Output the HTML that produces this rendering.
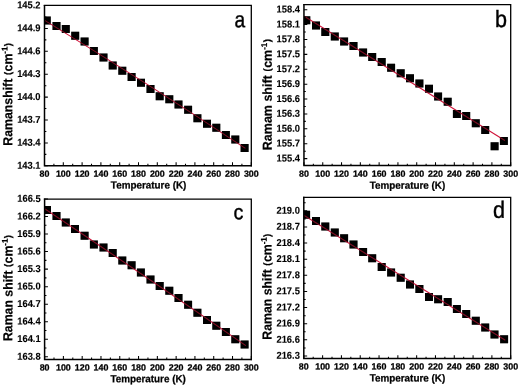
<!DOCTYPE html>
<html><head><meta charset="utf-8"><title>Raman shift vs temperature</title>
<style>
html,body{margin:0;padding:0;background:#fff;}
body{width:520px;height:386px;overflow:hidden;}
svg{display:block;}
text{font-family:"Liberation Sans",Arial,sans-serif;fill:#000;}
.yl{font-weight:bold;font-size:10.0px;text-anchor:end;stroke:#000;stroke-width:0.12px;}
.xl{font-weight:bold;font-size:9.0px;text-anchor:middle;stroke:#000;stroke-width:0.25px;}
.xt{font-weight:bold;font-size:10.3px;text-anchor:middle;stroke:#000;stroke-width:0.25px;}
.yt{font-weight:bold;font-size:13.0px;text-anchor:middle;stroke:#000;stroke-width:0.2px;}
.lt{font-size:22.5px;font-weight:normal;stroke:#000;stroke-width:0.4px;}
.ax{stroke:#000;fill:none;}
</style></head><body>
<svg width="520" height="386" viewBox="0 0 520 386">
<defs><filter id="soft" x="0" y="0" width="520" height="386" filterUnits="userSpaceOnUse"><feGaussianBlur stdDeviation="0.3"/></filter></defs>
<rect width="520" height="386" fill="#fff"/>
<g filter="url(#soft)">
<rect width="520" height="386" fill="#fff"/>

<g id="panel-a">
<clipPath id="cp-a"><rect x="44.5" y="5.4" width="206.8" height="160.3"/></clipPath>
<path d="M42.8 16.4h8v8h-8zM52.5 22h8v8h-8zM61.8 24.9h8v8h-8zM71.2 31.8h8v8h-8zM80.6 37.5h8v8h-8zM89.9 46.9h8v8h-8zM99.5 53.6h8v8h-8zM108.7 61.5h8v8h-8zM118.3 66.7h8v8h-8zM127.6 72.9h8v8h-8zM137 78.8h8v8h-8zM146.5 85.1h8v8h-8zM155.7 92.3h8v8h-8zM165.3 95.2h8v8h-8zM174.5 100.6h8v8h-8zM184.1 105.8h8v8h-8zM193.4 114.2h8v8h-8zM203 119.8h8v8h-8zM212.3 123.8h8v8h-8zM221.9 131.1h8v8h-8zM231.3 135.6h8v8h-8zM240.6 144h8v8h-8z" fill="#050505" clip-path="url(#cp-a)"/>
<path d="M44.7 20.4Q145.05 81.6 245.4 148.4" stroke="#d0143a" stroke-width="1.1" fill="none"/>
<path d="M42.8 16.4h8v8h-8zM52.5 22h8v8h-8zM61.8 24.9h8v8h-8zM71.2 31.8h8v8h-8zM80.6 37.5h8v8h-8zM89.9 46.9h8v8h-8zM99.5 53.6h8v8h-8zM108.7 61.5h8v8h-8zM118.3 66.7h8v8h-8zM127.6 72.9h8v8h-8zM137 78.8h8v8h-8zM146.5 85.1h8v8h-8zM155.7 92.3h8v8h-8zM165.3 95.2h8v8h-8zM174.5 100.6h8v8h-8zM184.1 105.8h8v8h-8zM193.4 114.2h8v8h-8zM203 119.8h8v8h-8zM212.3 123.8h8v8h-8zM221.9 131.1h8v8h-8zM231.3 135.6h8v8h-8zM240.6 144h8v8h-8z" fill="#000" fill-opacity="0.4" clip-path="url(#cp-a)"/>
<text class="yl" transform="translate(40.55 8.38) rotate(0.04) scale(0.935 1)">145.2</text>
<text class="yl" transform="translate(40.55 31.28) rotate(0.04) scale(0.935 1)">144.9</text>
<text class="yl" transform="translate(40.55 54.18) rotate(0.04) scale(0.935 1)">144.6</text>
<text class="yl" transform="translate(40.55 77.08) rotate(0.04) scale(0.935 1)">144.3</text>
<text class="yl" transform="translate(40.55 99.98) rotate(0.04) scale(0.935 1)">144.0</text>
<text class="yl" transform="translate(40.55 122.88) rotate(0.04) scale(0.935 1)">143.7</text>
<text class="yl" transform="translate(40.55 145.78) rotate(0.04) scale(0.935 1)">143.4</text>
<text class="yl" transform="translate(40.55 168.68) rotate(0.04) scale(0.935 1)">143.1</text>
<text class="xl" transform="translate(44.5 176.7) rotate(0.04) scale(0.99 1)">80</text>
<text class="xl" transform="translate(63.3 176.7) rotate(0.04) scale(0.99 1)">100</text>
<text class="xl" transform="translate(82.1 176.7) rotate(0.04) scale(0.99 1)">120</text>
<text class="xl" transform="translate(100.9 176.7) rotate(0.04) scale(0.99 1)">140</text>
<text class="xl" transform="translate(119.7 176.7) rotate(0.04) scale(0.99 1)">160</text>
<text class="xl" transform="translate(138.5 176.7) rotate(0.04) scale(0.99 1)">180</text>
<text class="xl" transform="translate(157.3 176.7) rotate(0.04) scale(0.99 1)">200</text>
<text class="xl" transform="translate(176.1 176.7) rotate(0.04) scale(0.99 1)">220</text>
<text class="xl" transform="translate(194.9 176.7) rotate(0.04) scale(0.99 1)">240</text>
<text class="xl" transform="translate(213.7 176.7) rotate(0.04) scale(0.99 1)">260</text>
<text class="xl" transform="translate(232.5 176.7) rotate(0.04) scale(0.99 1)">280</text>
<text class="xl" transform="translate(251.3 176.7) rotate(0.04) scale(0.99 1)">300</text>
<text class="xt" transform="translate(148.6 188.6) rotate(0.04) scale(0.96 1)">Temperature (K)</text>
<text class="yt" transform="translate(12.3 94.35) rotate(-89.96) scale(0.946 1)">Ramanshift <tspan dx="0.4" dy="-1.2" font-size="10">(</tspan><tspan dx="0.4" dy="1.2">cm</tspan><tspan dy="-4.8" font-size="8.4">-1</tspan><tspan dx="0.4" dy="3.6" font-size="10">)</tspan></text>
<text class="lt" transform="translate(234.6 27.3) rotate(0.04) scale(0.85 1.0)">a</text>
</g>
<g id="panel-b">
<clipPath id="cp-b"><rect x="303.95" y="4.65" width="206.75" height="160.95"/></clipPath>
<path d="M302.3 16.2h8v8h-8zM312 21.5h8v8h-8zM321.3 27.9h8v8h-8zM330.8 32.4h8v8h-8zM340.1 37.5h8v8h-8zM349.5 41.9h8v8h-8zM359.1 48.6h8v8h-8zM368.2 53.1h8v8h-8zM377.7 58.1h8v8h-8zM387.1 63.7h8v8h-8zM396.7 69.3h8v8h-8zM406 74.3h8v8h-8zM415.4 79.4h8v8h-8zM425 84.8h8v8h-8zM434.1 92.4h8v8h-8zM443.7 97.8h8v8h-8zM452.9 110.1h8v8h-8zM462.2 112.1h8v8h-8zM471.8 119.2h8v8h-8zM481.2 126.1h8v8h-8zM490.6 142.2h8v8h-8zM499.9 136.9h8v8h-8z" fill="#050505" clip-path="url(#cp-b)"/>
<path d="M304.2 16.3Q404.45 78.2 504.9 140.5" stroke="#d0143a" stroke-width="1.1" fill="none"/>
<path d="M302.3 16.2h8v8h-8zM312 21.5h8v8h-8zM321.3 27.9h8v8h-8zM330.8 32.4h8v8h-8zM340.1 37.5h8v8h-8zM349.5 41.9h8v8h-8zM359.1 48.6h8v8h-8zM368.2 53.1h8v8h-8zM377.7 58.1h8v8h-8zM387.1 63.7h8v8h-8zM396.7 69.3h8v8h-8zM406 74.3h8v8h-8zM415.4 79.4h8v8h-8zM425 84.8h8v8h-8zM434.1 92.4h8v8h-8zM443.7 97.8h8v8h-8zM452.9 110.1h8v8h-8zM462.2 112.1h8v8h-8zM471.8 119.2h8v8h-8zM481.2 126.1h8v8h-8zM490.6 142.2h8v8h-8zM499.9 136.9h8v8h-8z" fill="#000" fill-opacity="0.4" clip-path="url(#cp-b)"/>
<text class="yl" transform="translate(300 12.58) rotate(0.04) scale(0.935 1)">158.4</text>
<text class="yl" transform="translate(300 27.47) rotate(0.04) scale(0.935 1)">158.1</text>
<text class="yl" transform="translate(300 42.36) rotate(0.04) scale(0.935 1)">157.8</text>
<text class="yl" transform="translate(300 57.25) rotate(0.04) scale(0.935 1)">157.5</text>
<text class="yl" transform="translate(300 72.14) rotate(0.04) scale(0.935 1)">157.2</text>
<text class="yl" transform="translate(300 87.03) rotate(0.04) scale(0.935 1)">156.9</text>
<text class="yl" transform="translate(300 101.92) rotate(0.04) scale(0.935 1)">156.6</text>
<text class="yl" transform="translate(300 116.81) rotate(0.04) scale(0.935 1)">156.3</text>
<text class="yl" transform="translate(300 131.7) rotate(0.04) scale(0.935 1)">156.0</text>
<text class="yl" transform="translate(300 146.59) rotate(0.04) scale(0.935 1)">155.7</text>
<text class="yl" transform="translate(300 161.48) rotate(0.04) scale(0.935 1)">155.4</text>
<text class="xl" transform="translate(303.95 176.8) rotate(0.04) scale(0.99 1)">80</text>
<text class="xl" transform="translate(322.75 176.8) rotate(0.04) scale(0.99 1)">100</text>
<text class="xl" transform="translate(341.54 176.8) rotate(0.04) scale(0.99 1)">120</text>
<text class="xl" transform="translate(360.34 176.8) rotate(0.04) scale(0.99 1)">140</text>
<text class="xl" transform="translate(379.13 176.8) rotate(0.04) scale(0.99 1)">160</text>
<text class="xl" transform="translate(397.93 176.8) rotate(0.04) scale(0.99 1)">180</text>
<text class="xl" transform="translate(416.72 176.8) rotate(0.04) scale(0.99 1)">200</text>
<text class="xl" transform="translate(435.52 176.8) rotate(0.04) scale(0.99 1)">220</text>
<text class="xl" transform="translate(454.31 176.8) rotate(0.04) scale(0.99 1)">240</text>
<text class="xl" transform="translate(473.11 176.8) rotate(0.04) scale(0.99 1)">260</text>
<text class="xl" transform="translate(491.9 176.8) rotate(0.04) scale(0.99 1)">280</text>
<text class="xl" transform="translate(510.7 176.8) rotate(0.04) scale(0.99 1)">300</text>
<text class="xt" transform="translate(407.52 188.7) rotate(0.04) scale(0.96 1)">Temperature (K)</text>
<text class="yt" transform="translate(271.75 94.62) rotate(-89.96) scale(0.9601899999999999 1)">Ramam shift <tspan dx="0.4" dy="-1.2" font-size="10">(</tspan><tspan dx="0.4" dy="1.2">cm</tspan><tspan dy="-4.8" font-size="8.4">-1</tspan><tspan dx="0.4" dy="3.6" font-size="10">)</tspan></text>
<text class="lt" transform="translate(494.9 27.05) rotate(0.04) scale(0.96 1.04)">b</text>
</g>
<g id="panel-c">
<clipPath id="cp-c"><rect x="44.6" y="199.1" width="206.7" height="160.35"/></clipPath>
<path d="M43 205.9h8v8h-8zM52.5 212h8v8h-8zM61.8 218.4h8v8h-8zM71 225.1h8v8h-8zM80.6 231.7h8v8h-8zM89.9 240.6h8v8h-8zM99.5 243.6h8v8h-8zM108.7 249h8v8h-8zM118.3 256.6h8v8h-8zM127.6 261.2h8v8h-8zM136.9 268.4h8v8h-8zM146.5 275.5h8v8h-8zM155.7 281.9h8v8h-8zM165.3 286.8h8v8h-8zM174.5 294h8v8h-8zM184.1 300.8h8v8h-8zM193.4 308.7h8v8h-8zM203 316h8v8h-8zM212.3 321.7h8v8h-8zM221.9 328.1h8v8h-8zM231.3 335.3h8v8h-8zM240.6 340.4h8v8h-8z" fill="#050505" clip-path="url(#cp-c)"/>
<path d="M44.7 208.8Q151.75 280.4 245.8 345.6" stroke="#d0143a" stroke-width="1.1" fill="none"/>
<path d="M43 205.9h8v8h-8zM52.5 212h8v8h-8zM61.8 218.4h8v8h-8zM71 225.1h8v8h-8zM80.6 231.7h8v8h-8zM89.9 240.6h8v8h-8zM99.5 243.6h8v8h-8zM108.7 249h8v8h-8zM118.3 256.6h8v8h-8zM127.6 261.2h8v8h-8zM136.9 268.4h8v8h-8zM146.5 275.5h8v8h-8zM155.7 281.9h8v8h-8zM165.3 286.8h8v8h-8zM174.5 294h8v8h-8zM184.1 300.8h8v8h-8zM193.4 308.7h8v8h-8zM203 316h8v8h-8zM212.3 321.7h8v8h-8zM221.9 328.1h8v8h-8zM231.3 335.3h8v8h-8zM240.6 340.4h8v8h-8z" fill="#000" fill-opacity="0.4" clip-path="url(#cp-c)"/>
<text class="yl" transform="translate(40.65 201.88) rotate(0.04) scale(0.935 1)">166.5</text>
<text class="yl" transform="translate(40.65 219.41) rotate(0.04) scale(0.935 1)">166.2</text>
<text class="yl" transform="translate(40.65 236.94) rotate(0.04) scale(0.935 1)">165.9</text>
<text class="yl" transform="translate(40.65 254.47) rotate(0.04) scale(0.935 1)">165.6</text>
<text class="yl" transform="translate(40.65 272) rotate(0.04) scale(0.935 1)">165.3</text>
<text class="yl" transform="translate(40.65 289.53) rotate(0.04) scale(0.935 1)">165.0</text>
<text class="yl" transform="translate(40.65 307.06) rotate(0.04) scale(0.935 1)">164.7</text>
<text class="yl" transform="translate(40.65 324.59) rotate(0.04) scale(0.935 1)">164.4</text>
<text class="yl" transform="translate(40.65 342.12) rotate(0.04) scale(0.935 1)">164.1</text>
<text class="yl" transform="translate(40.65 359.65) rotate(0.04) scale(0.935 1)">163.8</text>
<text class="xl" transform="translate(44.6 370.5) rotate(0.04) scale(0.99 1)">80</text>
<text class="xl" transform="translate(63.39 370.5) rotate(0.04) scale(0.99 1)">100</text>
<text class="xl" transform="translate(82.18 370.5) rotate(0.04) scale(0.99 1)">120</text>
<text class="xl" transform="translate(100.97 370.5) rotate(0.04) scale(0.99 1)">140</text>
<text class="xl" transform="translate(119.76 370.5) rotate(0.04) scale(0.99 1)">160</text>
<text class="xl" transform="translate(138.55 370.5) rotate(0.04) scale(0.99 1)">180</text>
<text class="xl" transform="translate(157.35 370.5) rotate(0.04) scale(0.99 1)">200</text>
<text class="xl" transform="translate(176.14 370.5) rotate(0.04) scale(0.99 1)">220</text>
<text class="xl" transform="translate(194.93 370.5) rotate(0.04) scale(0.99 1)">240</text>
<text class="xl" transform="translate(213.72 370.5) rotate(0.04) scale(0.99 1)">260</text>
<text class="xl" transform="translate(232.51 370.5) rotate(0.04) scale(0.99 1)">280</text>
<text class="xl" transform="translate(251.3 370.5) rotate(0.04) scale(0.99 1)">300</text>
<text class="xt" transform="translate(148.15 382.3) rotate(0.04) scale(0.96 1)">Temperature (K)</text>
<text class="yt" transform="translate(12.4 288.07) rotate(-89.96) scale(0.946 1)">Raman shift <tspan dx="0.4" dy="-1.2" font-size="10">(</tspan><tspan dx="0.4" dy="1.2">cm</tspan><tspan dy="-4.8" font-size="8.4">-1</tspan><tspan dx="0.4" dy="3.6" font-size="10">)</tspan></text>
<text class="lt" transform="translate(233.5 219.3) rotate(0.04) scale(0.88 0.93)">c</text>
</g>
<g id="panel-d">
<clipPath id="cp-d"><rect x="303.8" y="197.35" width="206.9" height="161.15"/></clipPath>
<path d="M302.1 210.7h8v8h-8zM312 217h8v8h-8zM321.3 222.6h8v8h-8zM330.8 228.5h8v8h-8zM340.1 234.2h8v8h-8zM349.5 240.6h8v8h-8zM359.1 247.9h8v8h-8zM368.2 254.3h8v8h-8zM377.7 263h8v8h-8zM387.1 268.4h8v8h-8zM396.7 273.8h8v8h-8zM406 280.6h8v8h-8zM415.4 285.1h8v8h-8zM425 292.9h8v8h-8zM434.1 295.3h8v8h-8zM443.7 298.1h8v8h-8zM452.9 305h8v8h-8zM462.2 309.9h8v8h-8zM471.8 316.8h8v8h-8zM481.2 323.4h8v8h-8zM490.5 330.6h8v8h-8zM500.1 335.3h8v8h-8z" fill="#050505" clip-path="url(#cp-d)"/>
<path d="M304.2 215.5Q404.25 277.55 505.3 340.2" stroke="#d0143a" stroke-width="1.1" fill="none"/>
<path d="M302.1 210.7h8v8h-8zM312 217h8v8h-8zM321.3 222.6h8v8h-8zM330.8 228.5h8v8h-8zM340.1 234.2h8v8h-8zM349.5 240.6h8v8h-8zM359.1 247.9h8v8h-8zM368.2 254.3h8v8h-8zM377.7 263h8v8h-8zM387.1 268.4h8v8h-8zM396.7 273.8h8v8h-8zM406 280.6h8v8h-8zM415.4 285.1h8v8h-8zM425 292.9h8v8h-8zM434.1 295.3h8v8h-8zM443.7 298.1h8v8h-8zM452.9 305h8v8h-8zM462.2 309.9h8v8h-8zM471.8 316.8h8v8h-8zM481.2 323.4h8v8h-8zM490.5 330.6h8v8h-8zM500.1 335.3h8v8h-8z" fill="#000" fill-opacity="0.4" clip-path="url(#cp-d)"/>
<text class="yl" transform="translate(299.85 213.68) rotate(0.04) scale(0.935 1)">219.0</text>
<text class="yl" transform="translate(299.85 229.81) rotate(0.04) scale(0.935 1)">218.7</text>
<text class="yl" transform="translate(299.85 245.94) rotate(0.04) scale(0.935 1)">218.4</text>
<text class="yl" transform="translate(299.85 262.07) rotate(0.04) scale(0.935 1)">218.1</text>
<text class="yl" transform="translate(299.85 278.2) rotate(0.04) scale(0.935 1)">217.8</text>
<text class="yl" transform="translate(299.85 294.33) rotate(0.04) scale(0.935 1)">217.5</text>
<text class="yl" transform="translate(299.85 310.46) rotate(0.04) scale(0.935 1)">217.2</text>
<text class="yl" transform="translate(299.85 326.59) rotate(0.04) scale(0.935 1)">216.9</text>
<text class="yl" transform="translate(299.85 342.72) rotate(0.04) scale(0.935 1)">216.6</text>
<text class="yl" transform="translate(299.85 358.85) rotate(0.04) scale(0.935 1)">216.3</text>
<text class="xl" transform="translate(303.8 369.5) rotate(0.04) scale(0.99 1)">80</text>
<text class="xl" transform="translate(322.61 369.5) rotate(0.04) scale(0.99 1)">100</text>
<text class="xl" transform="translate(341.42 369.5) rotate(0.04) scale(0.99 1)">120</text>
<text class="xl" transform="translate(360.23 369.5) rotate(0.04) scale(0.99 1)">140</text>
<text class="xl" transform="translate(379.04 369.5) rotate(0.04) scale(0.99 1)">160</text>
<text class="xl" transform="translate(397.85 369.5) rotate(0.04) scale(0.99 1)">180</text>
<text class="xl" transform="translate(416.65 369.5) rotate(0.04) scale(0.99 1)">200</text>
<text class="xl" transform="translate(435.46 369.5) rotate(0.04) scale(0.99 1)">220</text>
<text class="xl" transform="translate(454.27 369.5) rotate(0.04) scale(0.99 1)">240</text>
<text class="xl" transform="translate(473.08 369.5) rotate(0.04) scale(0.99 1)">260</text>
<text class="xl" transform="translate(491.89 369.5) rotate(0.04) scale(0.99 1)">280</text>
<text class="xl" transform="translate(510.7 369.5) rotate(0.04) scale(0.99 1)">300</text>
<text class="xt" transform="translate(407.45 381.4) rotate(0.04) scale(0.96 1)">Temperature (K)</text>
<text class="yt" transform="translate(271.6 286.73) rotate(-89.96) scale(0.946 1)">Raman shift <tspan dx="0.4" dy="-1.2" font-size="10">(</tspan><tspan dx="0.4" dy="1.2">cm</tspan><tspan dy="-4.8" font-size="8.4">-1</tspan><tspan dx="0.4" dy="3.6" font-size="10">)</tspan></text>
<text class="lt" transform="translate(493 217.8) rotate(0.04) scale(0.96 1.04)">d</text>
</g>
</g>
<g id="axes">
<path class="ax" d="M43.75 5.4H251.3V166.45" stroke-width="1.3"/>
<path class="ax" d="M44.5 4.9V165.7H251.8" stroke-width="1.5"/>
<path class="ax" d="M44.5 5.5h3.35M44.5 16.95h1.85M44.5 28.4h3.35M44.5 39.85h1.85M44.5 51.3h3.35M44.5 62.75h1.85M44.5 74.2h3.35M44.5 85.65h1.85M44.5 97.1h3.35M44.5 108.55h1.85M44.5 120h3.35M44.5 131.45h1.85M44.5 142.9h3.35M44.5 154.35h1.85M44.5 165.8h3.35M44.5 165.7v-3.35M53.9 165.7v-1.85M63.3 165.7v-3.35M72.7 165.7v-1.85M82.1 165.7v-3.35M91.5 165.7v-1.85M100.9 165.7v-3.35M110.3 165.7v-1.85M119.7 165.7v-3.35M129.1 165.7v-1.85M138.5 165.7v-3.35M147.9 165.7v-1.85M157.3 165.7v-3.35M166.7 165.7v-1.85M176.1 165.7v-3.35M185.5 165.7v-1.85M194.9 165.7v-3.35M204.3 165.7v-1.85M213.7 165.7v-3.35M223.1 165.7v-1.85M232.5 165.7v-3.35M241.9 165.7v-1.85M251.3 165.7v-3.35" stroke-width="1.05"/>
<path class="ax" d="M303.2 4.65H510.7V166.35" stroke-width="1.3"/>
<path class="ax" d="M303.95 4.15V165.6H511.2" stroke-width="1.5"/>
<path class="ax" d="M303.95 9.7h3.35M303.95 17.14h1.85M303.95 24.59h3.35M303.95 32.03h1.85M303.95 39.48h3.35M303.95 46.93h1.85M303.95 54.37h3.35M303.95 61.82h1.85M303.95 69.26h3.35M303.95 76.71h1.85M303.95 84.15h3.35M303.95 91.59h1.85M303.95 99.04h3.35M303.95 106.49h1.85M303.95 113.93h3.35M303.95 121.38h1.85M303.95 128.82h3.35M303.95 136.26h1.85M303.95 143.71h3.35M303.95 151.15h1.85M303.95 158.6h3.35M303.95 165.6v-3.35M313.35 165.6v-1.85M322.75 165.6v-3.35M332.14 165.6v-1.85M341.54 165.6v-3.35M350.94 165.6v-1.85M360.34 165.6v-3.35M369.73 165.6v-1.85M379.13 165.6v-3.35M388.53 165.6v-1.85M397.93 165.6v-3.35M407.32 165.6v-1.85M416.72 165.6v-3.35M426.12 165.6v-1.85M435.52 165.6v-3.35M444.92 165.6v-1.85M454.31 165.6v-3.35M463.71 165.6v-1.85M473.11 165.6v-3.35M482.51 165.6v-1.85M491.9 165.6v-3.35M501.3 165.6v-1.85M510.7 165.6v-3.35" stroke-width="1.05"/>
<path class="ax" d="M43.85 199.1H251.3V360.2" stroke-width="1.3"/>
<path class="ax" d="M44.6 198.6V359.45H251.8" stroke-width="1.5"/>
<path class="ax" d="M44.6 199h3.35M44.6 207.76h1.85M44.6 216.53h3.35M44.6 225.3h1.85M44.6 234.06h3.35M44.6 242.82h1.85M44.6 251.59h3.35M44.6 260.36h1.85M44.6 269.12h3.35M44.6 277.88h1.85M44.6 286.65h3.35M44.6 295.41h1.85M44.6 304.18h3.35M44.6 312.94h1.85M44.6 321.71h3.35M44.6 330.48h1.85M44.6 339.24h3.35M44.6 348h1.85M44.6 356.77h3.35M44.6 359.45v-3.35M54 359.45v-1.85M63.39 359.45v-3.35M72.79 359.45v-1.85M82.18 359.45v-3.35M91.58 359.45v-1.85M100.97 359.45v-3.35M110.37 359.45v-1.85M119.76 359.45v-3.35M129.16 359.45v-1.85M138.55 359.45v-3.35M147.95 359.45v-1.85M157.35 359.45v-3.35M166.74 359.45v-1.85M176.14 359.45v-3.35M185.53 359.45v-1.85M194.93 359.45v-3.35M204.32 359.45v-1.85M213.72 359.45v-3.35M223.11 359.45v-1.85M232.51 359.45v-3.35M241.9 359.45v-1.85M251.3 359.45v-3.35" stroke-width="1.05"/>
<path class="ax" d="M303.05 197.35H510.7V359.25" stroke-width="1.3"/>
<path class="ax" d="M303.8 196.85V358.5H511.2" stroke-width="1.5"/>
<path class="ax" d="M303.8 210.8h3.35M303.8 218.87h1.85M303.8 226.93h3.35M303.8 235h1.85M303.8 243.06h3.35M303.8 251.12h1.85M303.8 259.19h3.35M303.8 267.25h1.85M303.8 275.32h3.35M303.8 283.38h1.85M303.8 291.45h3.35M303.8 299.51h1.85M303.8 307.58h3.35M303.8 315.65h1.85M303.8 323.71h3.35M303.8 331.78h1.85M303.8 339.84h3.35M303.8 347.91h1.85M303.8 355.97h3.35M303.8 202.74h1.85M303.8 358.5v-3.35M313.2 358.5v-1.85M322.61 358.5v-3.35M332.01 358.5v-1.85M341.42 358.5v-3.35M350.82 358.5v-1.85M360.23 358.5v-3.35M369.63 358.5v-1.85M379.04 358.5v-3.35M388.44 358.5v-1.85M397.85 358.5v-3.35M407.25 358.5v-1.85M416.65 358.5v-3.35M426.06 358.5v-1.85M435.46 358.5v-3.35M444.87 358.5v-1.85M454.27 358.5v-3.35M463.68 358.5v-1.85M473.08 358.5v-3.35M482.49 358.5v-1.85M491.89 358.5v-3.35M501.3 358.5v-1.85M510.7 358.5v-3.35" stroke-width="1.05"/>
</g>
</svg></body></html>
